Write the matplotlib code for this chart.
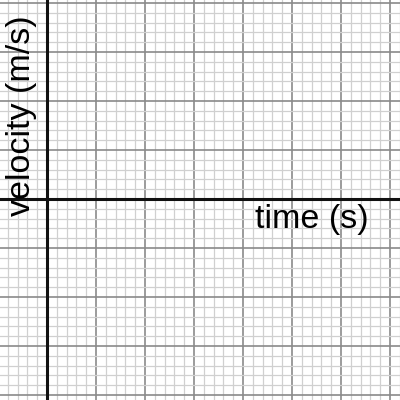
import matplotlib
matplotlib.use("Agg")
import matplotlib.pyplot as plt
import numpy as np

x_label = "time (s)"
y_label = "velocity (m/s)"
x_limits = [-47/49, 353/49]
y_limits = [-201/49, 199/49]

fig = plt.figure(figsize=(4, 4), dpi=100)
ax = fig.add_axes([0, 0, 1, 1])
ax.set_xlim(*x_limits)
ax.set_ylim(*y_limits)
for v in np.arange(-1, 8.01, 0.2):
    major = abs(v - round(v)) < 1e-6
    ax.axvline(v, color="#8a8a8a" if major else "#d0d0d0", lw=1.2 if major else 0.9, zorder=1)
for v in np.arange(-5, 5.01, 0.2):
    major = abs(v - round(v)) < 1e-6
    ax.axhline(v, color="#8a8a8a" if major else "#d0d0d0", lw=1.2 if major else 0.9, zorder=1)
ax.axhline(0, color="#111111", lw=2.2, zorder=2)
ax.axvline(0, color="#111111", lw=2.2, zorder=2)
ax.axis("off")
ax.text(0.78, 0.452, x_label, transform=ax.transAxes, fontsize=24.5, family="Liberation Sans", ha="center", va="center")
ax.text(0.055, 0.712, y_label, transform=ax.transAxes, fontsize=24.5, family="Liberation Sans", ha="center", va="center", rotation=90)
fig.savefig("out.png", dpi=100)
